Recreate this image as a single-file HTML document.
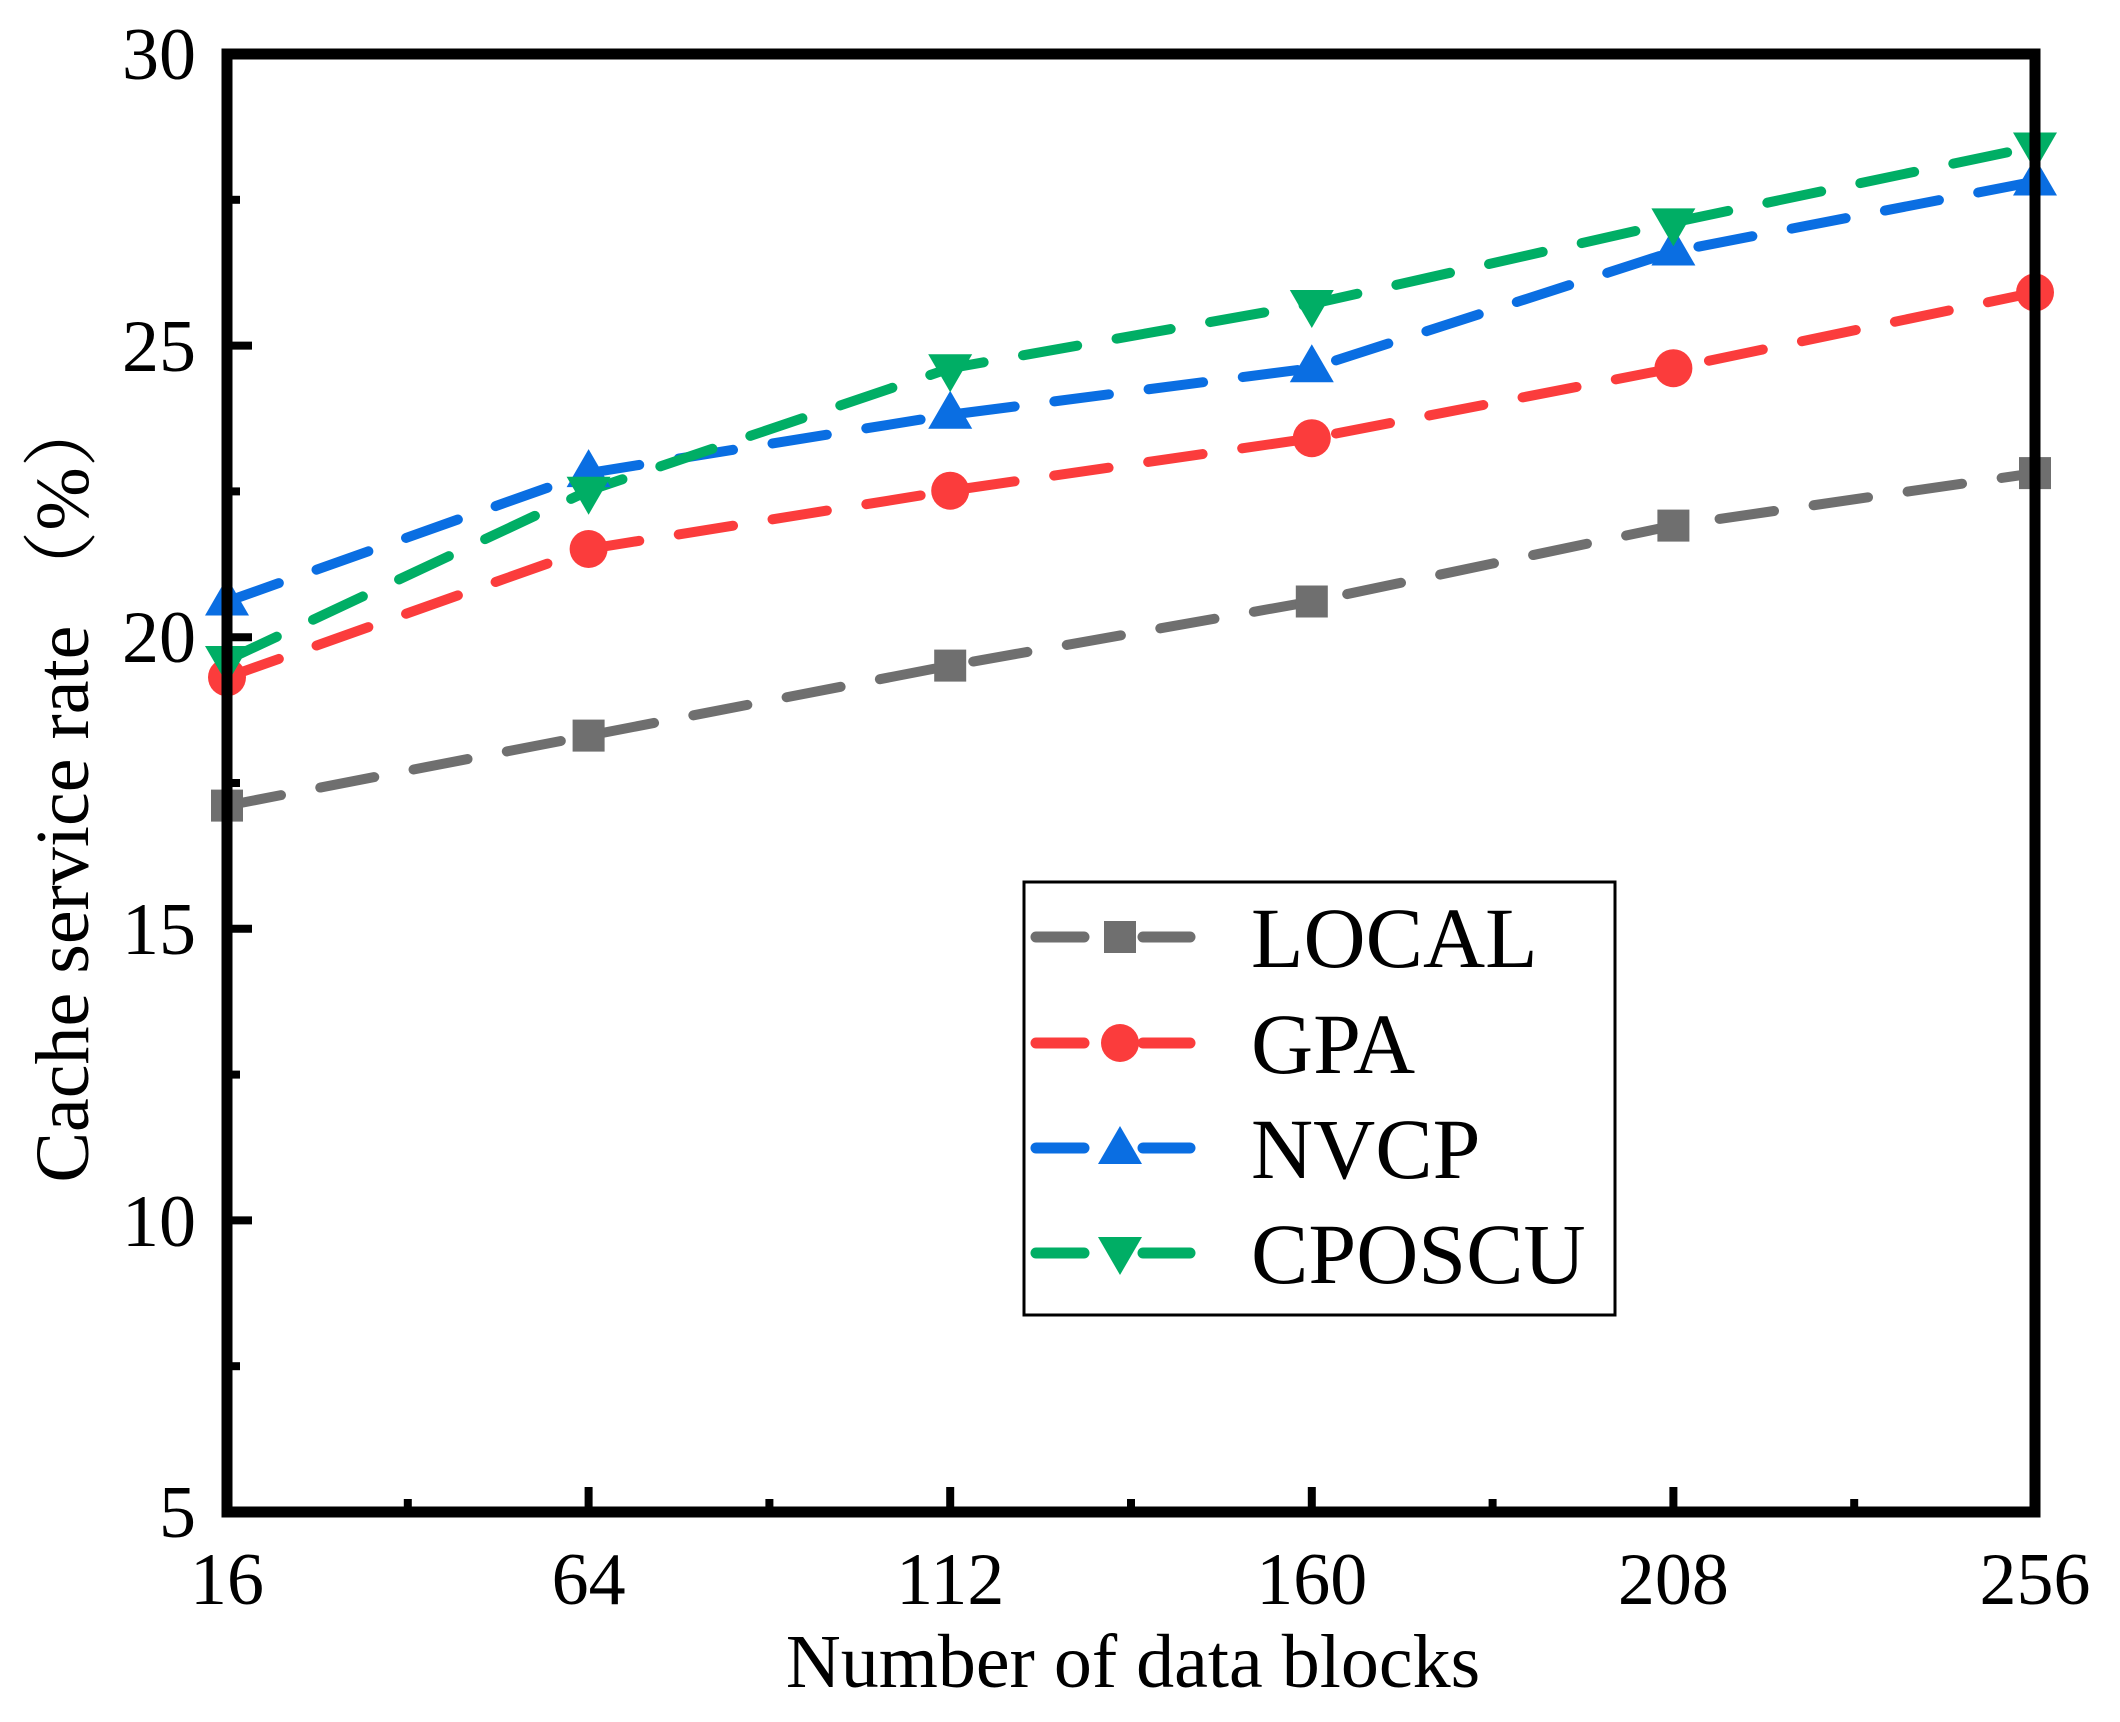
<!DOCTYPE html>
<html><head><meta charset="utf-8"><style>
html,body{margin:0;padding:0;background:#fff;}
svg{display:block;}
text{font-family:"Liberation Serif","Noto Serif CJK SC",serif;fill:#000;}
</style></head><body>
<svg width="2120" height="1722" viewBox="0 0 2120 1722" xmlns="http://www.w3.org/2000/svg">
<defs>
<g id="sq"><rect x="-16" y="-16" width="32" height="32"/></g>
<g id="ci"><circle r="19"/></g>
<g id="tu"><polygon points="0,-24 22,14 -22,14"/></g>
<g id="td"><polygon points="0,24 22,-14 -22,-14"/></g>
</defs>
<g fill="none" stroke-width="10" stroke-linecap="round" stroke-dasharray="55 40">
<polyline stroke="#6f6f6f" points="227,805.6 588.6,735.6 950.2,665.6 1311.8,601.5 1673.4,525.6 2035,473.1"/>
<polyline stroke="#fb3c3c" points="227,677.3 588.6,549.0 950.2,490.7 1311.8,438.2 1673.4,368.2 2035,292.4"/>
<polyline stroke="#0a6ee2" points="227,601.5 588.6,473.1 950.2,414.8 1311.8,368.2 1673.4,251.5 2035,181.5"/>
<polyline stroke="#00ae65" points="227,660.0 588.6,490.7 950.2,368.2 1311.8,304.0 1673.4,222.4 2035,146.5"/>
</g>
<g fill="#6f6f6f">
<use href="#sq" x="227" y="805.6"/><use href="#sq" x="588.6" y="735.6"/><use href="#sq" x="950.2" y="665.6"/><use href="#sq" x="1311.8" y="601.5"/><use href="#sq" x="1673.4" y="525.6"/><use href="#sq" x="2035" y="473.1"/>
</g>
<g fill="#fb3c3c">
<use href="#ci" x="227" y="677.3"/><use href="#ci" x="588.6" y="549.0"/><use href="#ci" x="950.2" y="490.7"/><use href="#ci" x="1311.8" y="438.2"/><use href="#ci" x="1673.4" y="368.2"/><use href="#ci" x="2035" y="292.4"/>
</g>
<g fill="#0a6ee2">
<use href="#tu" x="227" y="601.5"/><use href="#tu" x="588.6" y="473.1"/><use href="#tu" x="950.2" y="414.8"/><use href="#tu" x="1311.8" y="368.2"/><use href="#tu" x="1673.4" y="251.5"/><use href="#tu" x="2035" y="181.5"/>
</g>
<g fill="#00ae65">
<use href="#td" x="227" y="660.0"/><use href="#td" x="588.6" y="490.7"/><use href="#td" x="950.2" y="368.2"/><use href="#td" x="1311.8" y="304.0"/><use href="#td" x="1673.4" y="222.4"/><use href="#td" x="2035" y="146.5"/>
</g>
<rect x="227" y="54" width="1808" height="1458" fill="none" stroke="#000" stroke-width="11"/>
<g stroke="#000" stroke-width="8">
<line x1="227" y1="345.6" x2="252" y2="345.6"/>
<line x1="227" y1="637.2" x2="252" y2="637.2"/>
<line x1="227" y1="928.8" x2="252" y2="928.8"/>
<line x1="227" y1="1220.4" x2="252" y2="1220.4"/>
<line x1="227" y1="199.8" x2="240" y2="199.8"/>
<line x1="227" y1="491.4" x2="240" y2="491.4"/>
<line x1="227" y1="783" x2="240" y2="783"/>
<line x1="227" y1="1074.6" x2="240" y2="1074.6"/>
<line x1="227" y1="1366.2" x2="240" y2="1366.2"/>
<line x1="588.6" y1="1512" x2="588.6" y2="1487"/>
<line x1="950.2" y1="1512" x2="950.2" y2="1487"/>
<line x1="1311.8" y1="1512" x2="1311.8" y2="1487"/>
<line x1="1673.4" y1="1512" x2="1673.4" y2="1487"/>
<line x1="407.8" y1="1512" x2="407.8" y2="1499"/>
<line x1="769.4" y1="1512" x2="769.4" y2="1499"/>
<line x1="1131" y1="1512" x2="1131" y2="1499"/>
<line x1="1492.6" y1="1512" x2="1492.6" y2="1499"/>
<line x1="1854.2" y1="1512" x2="1854.2" y2="1499"/>
</g>
<g font-size="74" text-anchor="end">
<text x="196" y="79">30</text>
<text x="196" y="371">25</text>
<text x="196" y="662">20</text>
<text x="196" y="954">15</text>
<text x="196" y="1246">10</text>
<text x="196" y="1537">5</text>
</g>
<g font-size="74" text-anchor="middle">
<text x="227" y="1604">16</text>
<text x="588.6" y="1604">64</text>
<text x="950.2" y="1604">112</text>
<text x="1311.8" y="1604">160</text>
<text x="1673.4" y="1604">208</text>
<text x="2035" y="1604">256</text>
</g>
<text x="1133" y="1687" font-size="76" text-anchor="middle">Number of data blocks</text>
<text transform="translate(88,787) rotate(-90)" font-size="76" text-anchor="middle">Cache service rate （%）</text>
<rect x="1024" y="882" width="591" height="433" fill="#fff" stroke="#000" stroke-width="3"/>
<g stroke-width="11" stroke-linecap="round">
<line x1="1036" y1="937" x2="1084" y2="937" stroke="#6f6f6f"/><line x1="1143" y1="937" x2="1190" y2="937" stroke="#6f6f6f"/>
<line x1="1036" y1="1043" x2="1084" y2="1043" stroke="#fb3c3c"/><line x1="1143" y1="1043" x2="1190" y2="1043" stroke="#fb3c3c"/>
<line x1="1036" y1="1148" x2="1084" y2="1148" stroke="#0a6ee2"/><line x1="1143" y1="1148" x2="1190" y2="1148" stroke="#0a6ee2"/>
<line x1="1036" y1="1253" x2="1084" y2="1253" stroke="#00ae65"/><line x1="1143" y1="1253" x2="1190" y2="1253" stroke="#00ae65"/>
</g>
<use href="#sq" x="1120" y="937" fill="#6f6f6f"/>
<use href="#ci" x="1120" y="1043" fill="#fb3c3c"/>
<use href="#tu" x="1120" y="1150" fill="#0a6ee2"/>
<use href="#td" x="1120" y="1251" fill="#00ae65"/>
<g font-size="86">
<text x="1251" y="967">LOCAL</text>
<text x="1251" y="1073">GPA</text>
<text x="1251" y="1178">NVCP</text>
<text x="1251" y="1283">CPOSCU</text>
</g>
</svg>
</body></html>
